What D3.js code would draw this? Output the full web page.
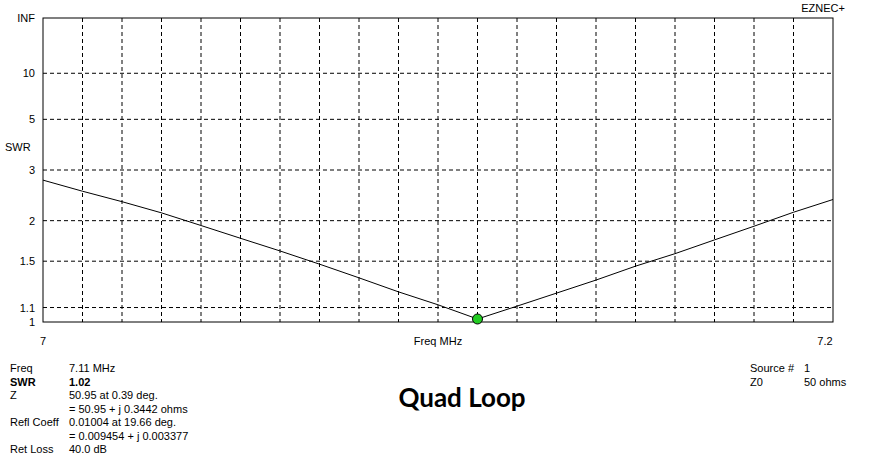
<!DOCTYPE html>
<html><head><meta charset="utf-8">
<script src="https://cdn.jsdelivr.net/npm/d3@7"></script>
<style>body{margin:0;background:#fff}text{font-family:"Liberation Sans",Arial,sans-serif;font-size:11px;fill:#000}</style>
</head><body><div id="chart"></div>
<script>
// SWR sweep, 7.00 .. 7.20 MHz in 0.01 steps
var freqs = d3.range(21).map(i => 7 + i * 0.01);
var swr = [2.75, 2.51, 2.31, 2.12, 1.93, 1.76, 1.61, 1.47, 1.34, 1.22, 1.12, 1.02,
           1.11, 1.21, 1.32, 1.45, 1.58, 1.74, 1.92, 2.13, 2.35];
var yTicks = [1, 1.1, 1.5, 2, 3, 5, 10, Infinity];
var marker = {freq: 7.11, swr: 1.02};
var infoLeft = [["Freq", "7.11 MHz"], ["SWR", "1.02"], ["Z", "50.95 at 0.39 deg."], ["", "= 50.95 + j 0.3442 ohms"],
                ["Refl Coeff", "0.01004 at 19.66 deg."], ["", "= 0.009454 + j 0.003377"], ["Ret Loss", "40.0 dB"]];
var infoRight = [["Source #", "1"], ["Z0", "50 ohms"]];

var W = 880, H = 467, L = 43, R = 833, T = 18, B = 322;
var svg = d3.select("#chart").append("svg").attr("width", W).attr("height", H);

var x = d3.scaleLinear().domain([7, 7.2]).range([L, R]);
// reflection coefficient scale
var rho = s => s === Infinity ? 1 : (s - 1) / (s + 1);
var yr = d3.scaleLinear().domain([0, 1]).range([B, T]);
var y = s => yr(rho(s));

// grid
svg.selectAll(".vg").data(d3.range(1, 20)).enter().append("line")
  .attr("x1", i => x(7 + i * 0.01)).attr("x2", i => x(7 + i * 0.01))
  .attr("y1", T).attr("y2", B).attr("stroke", "#000").attr("stroke-dasharray", "4,3");
svg.selectAll(".hg").data(yTicks.slice(1, -1)).enter().append("line")
  .attr("x1", L).attr("x2", R).attr("y1", y).attr("y2", y)
  .attr("stroke", "#000").attr("stroke-dasharray", "4,3");
svg.append("rect").attr("x", L).attr("y", T).attr("width", R - L).attr("height", B - T)
  .attr("fill", "none").attr("stroke", "#000");

// y labels
svg.selectAll(".yl").data(yTicks).enter().append("text")
  .attr("x", 35).attr("y", d => y(d) + 4).attr("text-anchor", "end")
  .text(d => d === Infinity ? "INF" : d);
svg.append("text").attr("x", 5).attr("y", 151).text("SWR");
svg.append("text").attr("x", 845).attr("y", 12).attr("text-anchor", "end").text("EZNEC+");

// x labels
svg.append("text").attr("x", x(7)).attr("y", 345).attr("text-anchor", "middle").text("7");
svg.append("text").attr("x", x(7.2) - 8).attr("y", 345).attr("text-anchor", "middle").text("7.2");
svg.append("text").attr("x", 438).attr("y", 345).attr("text-anchor", "middle").text("Freq MHz");

// curve
var line = d3.line().x((d, i) => x(freqs[i])).y(d => y(d));
svg.append("path").datum(swr).attr("d", line).attr("fill", "none").attr("stroke", "#000");
svg.append("circle").attr("cx", x(marker.freq)).attr("cy", y(marker.swr)).attr("r", 5)
  .attr("fill", "#22cc22").attr("stroke", "#000");

// info block
infoLeft.forEach((r, i) => {
  var bold = r[0] === "SWR";
  svg.append("text").attr("x", 10).attr("y", 372 + i * 13.5).style("font-weight", bold ? "bold" : null).text(r[0]);
  svg.append("text").attr("x", 69).attr("y", 372 + i * 13.5).style("font-weight", bold ? "bold" : null).text(r[1]);
});
infoRight.forEach((r, i) => {
  svg.append("text").attr("x", 750).attr("y", 372 + i * 13.5).text(r[0]);
  svg.append("text").attr("x", 804).attr("y", 372 + i * 13.5).text(r[1]);
});
svg.append("text").attr("x", 462).attr("y", 407).attr("text-anchor", "middle")
  .style("font-size", "26px").style("font-weight", "bold").style("font-family", "Lato, 'Open Sans', sans-serif").text("Quad Loop");
</script></body></html>
